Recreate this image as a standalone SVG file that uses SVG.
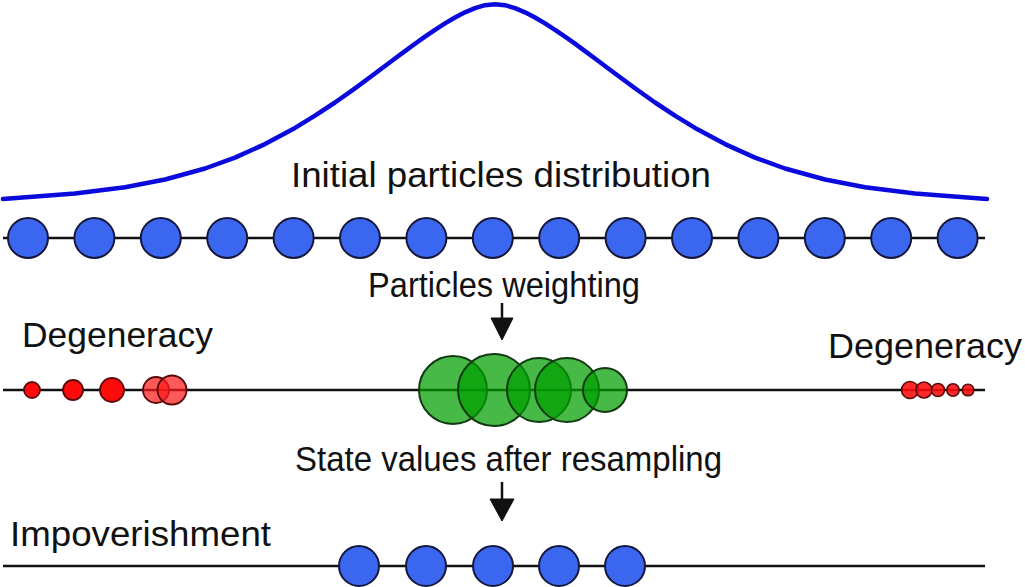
<svg xmlns="http://www.w3.org/2000/svg" width="1025" height="587" viewBox="0 0 1025 587">
<style>
.t{font-family:"Liberation Sans",Arial,sans-serif;fill:#111;font-size:35px}
.ax{stroke:#111;stroke-width:2.5;fill:none}
.b{fill:#3a66f0;stroke:#15183a;stroke-width:2}
.r{fill:#ff0a0a;stroke:#5a0a0a;stroke-width:1.8}
.rt{fill:#ff1a1a;fill-opacity:0.72;stroke:#5a0a0a;stroke-width:1.8}
.rd{fill:#ff0a0a;fill-opacity:0.88;stroke:#5a0a0a;stroke-width:1.6}
.g{fill:#009e00;fill-opacity:0.72;stroke:#123a12;stroke-width:2}
.ar{fill:#111;stroke:#111}
</style>
<rect width="1025" height="587" fill="#fff"/>
<g id="curve">
<polyline fill="none" stroke="#0a0adc" stroke-width="4.5" stroke-linejoin="round" stroke-linecap="round" points="3,199 75,193.5 125,187.2 165,179.5 205,168.5 235,157.6 265,144.1 295,127.9 315,115.7 335,102.5 355,88.3 375,73.5 395,58.5 405,51.1 415,43.7 425,36.6 435,29.8 445,23.4 455,17.5 465,12.3 475,8.2 485,5.2 495,4.2 505,5.2 515,8.2 525,12.3 535,17.5 545,23.4 555,29.8 565,36.6 575,43.7 585,51.1 595,58.5 615,73.5 635,88.3 655,102.5 675,115.7 695,127.9 725,144.1 755,157.6 785,168.5 825,179.5 865,187.2 915,193.5 987,199"/>
</g>
<g id="label-initial"><text class="t" x="291" y="187" font-size="36" textLength="420" lengthAdjust="spacingAndGlyphs">Initial particles distribution</text></g>
<g id="row-initial">
<line class="ax" x1="3" y1="238" x2="985" y2="238"/>
<circle class="b" cx="28" cy="238" r="20"/>
<circle class="b" cx="94.4" cy="238" r="20"/>
<circle class="b" cx="160.8" cy="238" r="20"/>
<circle class="b" cx="227.2" cy="238" r="20"/>
<circle class="b" cx="293.6" cy="238" r="20"/>
<circle class="b" cx="360" cy="238" r="20"/>
<circle class="b" cx="426.4" cy="238" r="20"/>
<circle class="b" cx="492.8" cy="238" r="20"/>
<circle class="b" cx="559.2" cy="238" r="20"/>
<circle class="b" cx="625.6" cy="238" r="20"/>
<circle class="b" cx="692" cy="238" r="20"/>
<circle class="b" cx="758.4" cy="238" r="20"/>
<circle class="b" cx="824.8" cy="238" r="20"/>
<circle class="b" cx="891.2" cy="238" r="20"/>
<circle class="b" cx="957.6" cy="238" r="20"/>
</g>
<g id="label-weighting"><text class="t" x="368" y="297" textLength="272" lengthAdjust="spacingAndGlyphs">Particles weighting</text></g>
<g id="connectors">
<line class="ax" x1="502" y1="303" x2="502" y2="322"/>
<polygon class="ar" points="491,318 513,318 502,340"/>
<line class="ax" x1="502" y1="482" x2="502" y2="502"/>
<polygon class="ar" points="490,499 514,499 502,521"/>
</g>
<g id="label-degeneracy-left"><text class="t" x="22" y="347" textLength="191" lengthAdjust="spacingAndGlyphs">Degeneracy</text></g>
<g id="label-degeneracy-right"><text class="t" x="828" y="358" textLength="194" lengthAdjust="spacingAndGlyphs">Degeneracy</text></g>
<g id="row-weighted">
<line class="ax" x1="3" y1="390" x2="985" y2="390"/>
<circle class="r" cx="32" cy="390" r="8"/>
<circle class="r" cx="73" cy="390" r="10"/>
<circle class="r" cx="112" cy="390" r="12"/>
<circle class="rt" cx="156" cy="390" r="13"/>
<circle class="rt" cx="172" cy="390" r="14.5"/>
<circle class="g" cx="453" cy="390" r="34"/>
<circle class="g" cx="494" cy="390" r="36"/>
<circle class="g" cx="539" cy="390" r="32"/>
<circle class="g" cx="567" cy="390" r="32"/>
<circle class="g" cx="605" cy="390" r="22"/>
<circle class="rd" cx="910" cy="390" r="8.5"/>
<circle class="rd" cx="924" cy="390" r="8"/>
<circle class="rd" cx="938" cy="390" r="6.5"/>
<circle class="rd" cx="953" cy="390" r="6.2"/>
<circle class="rd" cx="968" cy="390" r="5.8"/>
</g>
<g id="label-resampling"><text class="t" x="295" y="471" textLength="427" lengthAdjust="spacingAndGlyphs">State values after resampling</text></g>
<g id="label-impoverishment"><text class="t" x="10" y="546" textLength="261" lengthAdjust="spacingAndGlyphs">Impoverishment</text></g>
<g id="row-resampled">
<line class="ax" x1="3" y1="566" x2="985" y2="566"/>
<circle class="b" cx="359" cy="566" r="20"/>
<circle class="b" cx="426" cy="566" r="20"/>
<circle class="b" cx="493" cy="566" r="20"/>
<circle class="b" cx="559" cy="566" r="20"/>
<circle class="b" cx="625" cy="566" r="20"/>
</g>
</svg>
